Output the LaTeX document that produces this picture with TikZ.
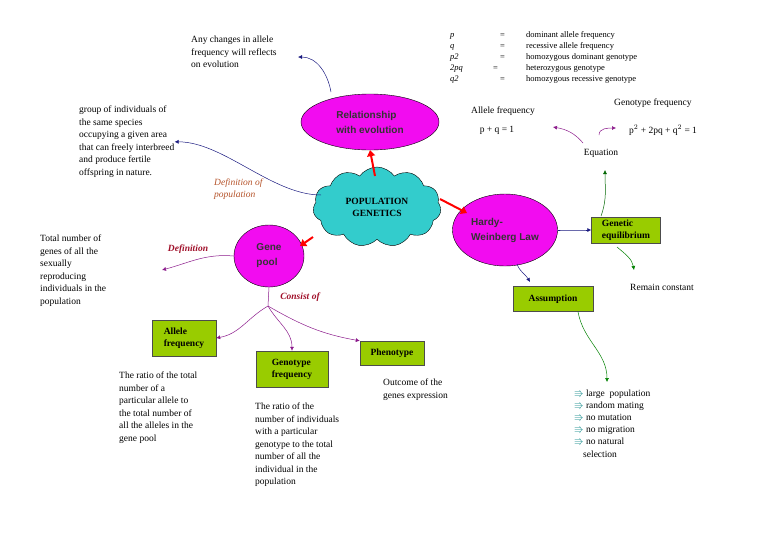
\documentclass[tikz,border=0pt]{standalone}
\usepackage{amssymb}
\usepackage{fontspec}
\setmainfont{Liberation Serif}
\setsansfont{Liberation Sans}
\usetikzlibrary{shapes.geometric,shapes.symbols,arrows.meta}
\definecolor{mag}{HTML}{F20CF0}
\definecolor{grn}{HTML}{99CC00}
\definecolor{cyanc}{HTML}{33CCCC}
\definecolor{dred}{HTML}{A0102A}
\definecolor{brn}{HTML}{B5532A}
\definecolor{pur}{HTML}{8B1A8B}
\definecolor{nav}{HTML}{1A1A80}
\begin{document}
\begin{tikzpicture}[x=1pt,y=-1pt,
  every node/.style={font=\fontsize{9.5}{12.5}\selectfont},
  txt/.style={align=left,anchor=north west,inner sep=0pt},
  ell/.style={ellipse,draw=black,fill=mag,font=\sffamily\bfseries\fontsize{10}{15}\selectfont,text=black!80,align=left},
  box/.style={draw=black!70,fill=grn,font=\bfseries\fontsize{9.5}{12}\selectfont,align=left,inner sep=3pt},
  red/.style={draw=red,line width=2pt,-{Triangle[length=6pt,width=8pt]}},
  thin/.style={line width=0.5pt,-{Latex[length=4pt,width=4pt]}},
  lbl/.style={font=\itshape\bfseries\fontsize{9.5}{12}\selectfont,text=dred}]
\useasboundingbox (0,0) rectangle (768,542);
% main nodes
\node[cloud,cloud puffs=11,cloud puff arc=110,aspect=1.6,draw=black,fill=cyanc,minimum width=128pt,minimum height=80pt,font=\bfseries\fontsize{9.5}{12}\selectfont,align=center] (pg) at (377,207) {POPULATION\\GENETICS};
\node[ell,minimum width=138pt,minimum height=56pt] (rel) at (370,122) {Relationship\\with evolution};
\node[ell,minimum width=105pt,minimum height=72pt] (hw) at (505,230) {Hardy-\\Weinberg Law};
\node[ell,minimum width=70pt,minimum height=62pt] (gp) at (269,256) {Gene\\pool};
\node[box,minimum width=69pt,minimum height=24pt] (ge) at (626,230) {Genetic\\equilibrium};
\node[box,minimum width=80pt,minimum height=25pt] (as) at (553,299) {Assumption};
\node[box,minimum width=64pt,minimum height=36pt] (af) at (184,338) {Allele\\frequency};
\node[box,minimum width=72pt,minimum height=36pt] (gf) at (292,369) {Genotype\\frequency};
\node[box,minimum width=64pt,minimum height=24pt] (ph) at (392,353) {Phenotype};
% texts
\node[txt] (t1) at (191,36) {Any changes in allele\\frequency will reflects\\on evolution};
\node[txt] (t2) at (79,106) {group of individuals of\\the same species\\occupying a given area\\that can freely interbreed\\and produce fertile\\offspring in nature.};
\node[txt,font=\itshape\fontsize{9.5}{12}\selectfont,text=brn] (dp) at (214,179) {Definition of\\population};
\node[txt] (t3) at (40,235) {Total number of\\genes of all the\\sexually\\reproducing\\individuals in the\\population};
\node[lbl] (def) at (188,249) {Definition};
\node[lbl] (con) at (300,297) {Consist of};
\node[txt] (t4) at (119,372) {The ratio of the total\\number of a\\particular allele to\\the total number of\\all the alleles in the\\gene pool};
\node[txt] (t5) at (255,403) {The ratio of the\\number of individuals\\with a particular\\genotype to the total\\number of all the\\individual in the\\population};
\node[txt] (t6) at (383,379) {Outcome of the\\genes expression};
\node[txt] (rc) at (630,284) {Remain constant};
\node (eq) at (601,153) {Equation};
\node[txt] (af2) at (471,107) {Allele frequency};
\node (pq) at (497,130) {p + q = 1};
\node[txt] (gf2) at (614,99) {Genotype frequency};
\node[anchor=west,inner sep=0pt] (pq2) at (629,130) {p$^2$ + 2pq + q$^2$ = 1};
\coordinate (pqe) at (553,127);
\coordinate (pq2w) at (616,128);
% legend
\begin{scope}[every node/.style={font=\fontsize{8.5}{10}\selectfont,anchor=base west,inner sep=0pt}]
\foreach \a/\b/\c/\y in {p/500/dominant allele frequency/37, q/500/recessive allele frequency/48, p2/500/homozygous dominant genotype/59, 2pq/493/heterozygous genotype/70, q2/500/homozygous recessive genotype/81}{
  \node (l\y) at (450,\y) {\itshape\a};
  \node (e\y) at (\b,\y) {=};
  \node (d\y) at (526,\y) {\c};
}
\end{scope}
% bullets
\begin{scope}[every node/.style={font=\fontsize{9.5}{12}\selectfont,anchor=base west,inner sep=0pt}]
\foreach \t/\y in {large\ \ population/396, random mating/408, no mutation/420, no migration/432, no natural/444}{
  \node (b\y) at (574,\y) {\textcolor{teal}{$\Rrightarrow$}\ \t};
}
\node (sel) at (583,457) {selection};
\end{scope}
\coordinate (bt) at (607,382);
% red arrows
\draw[red] (375,176) -- (rel.south);
\draw[red] (440,199) -- (467,213);
\draw[red] (313,237) -- (300,246);
% connectors
\draw[thin,nav] (331,92) to[out=100,in=0] (298,57);
\draw[thin,nav] (321,195) to[out=180,in=0,looseness=0.8] (t2.east);
\draw[thin,pur] (gp.west) to[out=175,in=15] (162,270);
\coordinate (br) at (268,306);
\draw[line width=0.5pt,pur] (gp.south) -- (br);
\draw[thin,pur] (br) to[out=-150,in=10] (af.east);
\draw[thin,pur] (br) to[out=-60,in=90] (gf.north);
\draw[thin,pur] (br) to[out=-30,in=170] (ph.north west);
\draw[thin,nav] (hw.east) to[out=0,in=180] (ge.west);
\draw[thin,nav] (517,264) to[out=-70,in=120] (530,282);
\draw[thin,black!60!green] (601,216) to[out=70,in=-90] (605,170);
\draw[thin,green!50!black] (617,247) to[out=-40,in=100] (634,270);
\draw[thin,pur] (583,143) to[out=130,in=-10] (pqe);
\draw[thin,pur] (599,135) to[out=90,in=180] (pq2w);
\draw[thin,black!50!green] (as.south) ++(25,0) to[out=-80,in=90] (bt);
\end{tikzpicture}
\end{document}
